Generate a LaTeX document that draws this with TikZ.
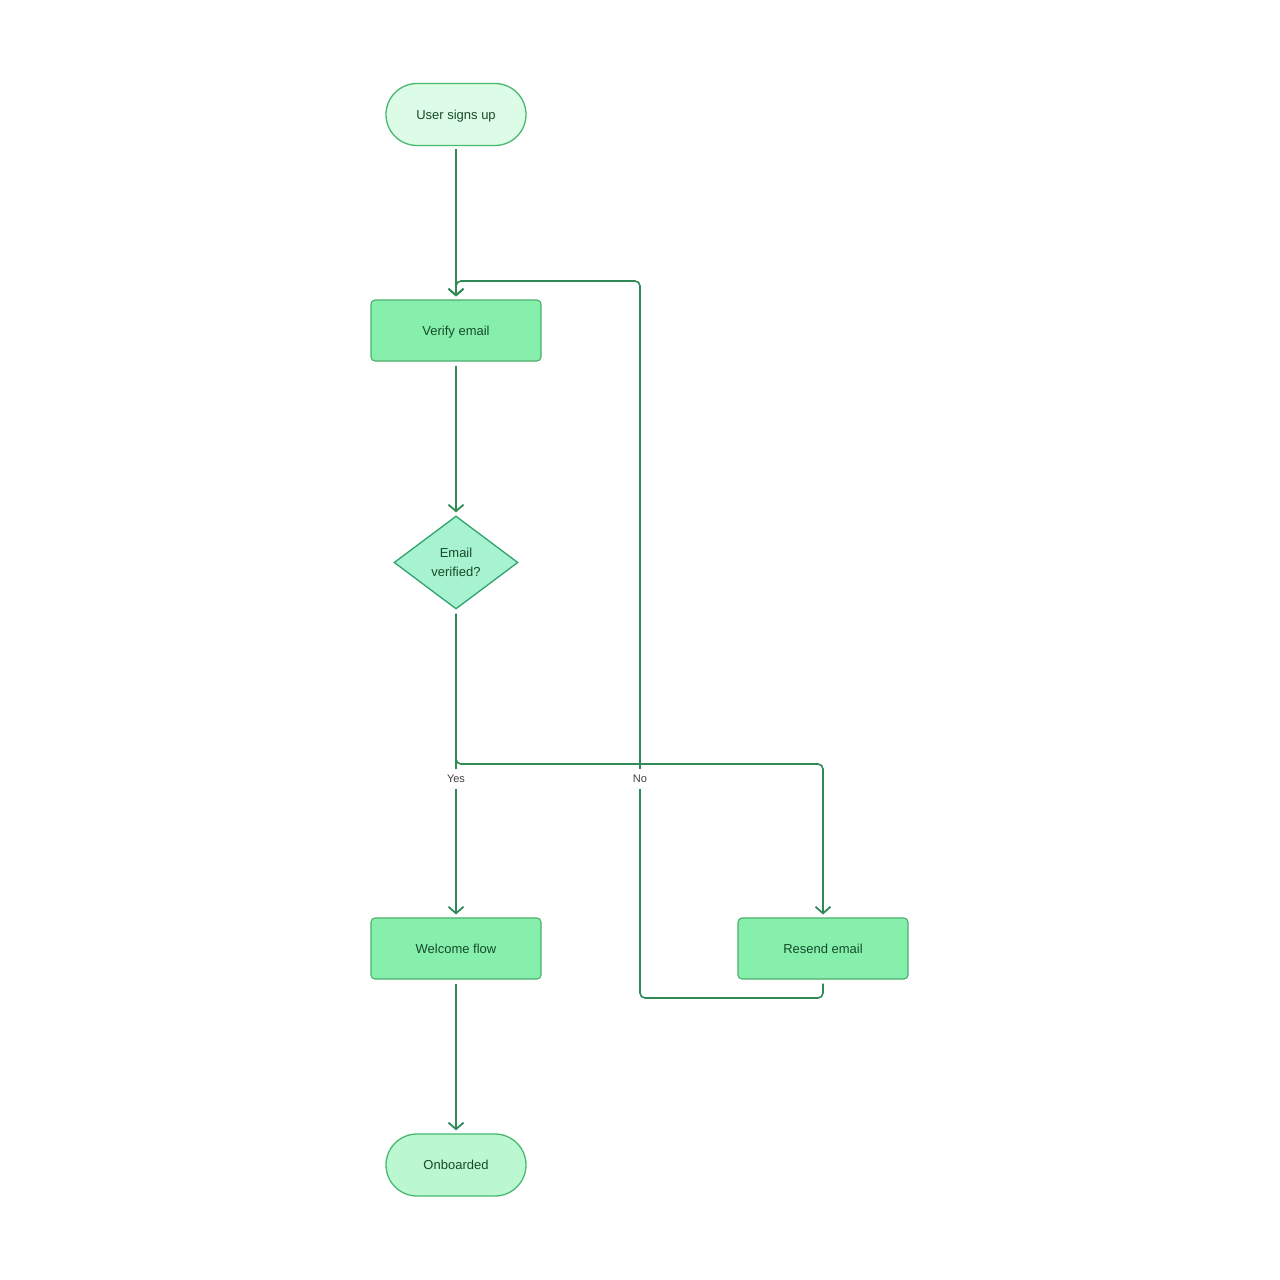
\documentclass[tikz,border=0pt]{standalone}
\usepackage{fontspec}
\setmainfont{Liberation Sans}
\usetikzlibrary{shapes.geometric,arrows.meta}
\definecolor{edge}{HTML}{2F8A57}
\definecolor{txt}{HTML}{174A2B}
\definecolor{startfill}{HTML}{DCFCE7}
\definecolor{endfill}{HTML}{BBF7D0}
\definecolor{boxfill}{HTML}{86EFAC}
\definecolor{boxdraw}{HTML}{4CAF6E}
\definecolor{dfill}{HTML}{A7F3D0}
\definecolor{ddraw}{HTML}{2FA36B}
\definecolor{termdraw}{HTML}{46B96F}
\tikzset{
  terminal/.style={draw=termdraw, line width=1.3pt, rounded corners=31pt, minimum width=140pt, minimum height=62pt, inner sep=0pt, font=\fontsize{13}{15}\selectfont, text=txt, text height=11pt, text depth=2pt},
  procbox/.style={draw=boxdraw, fill=boxfill, line width=1.1pt, rounded corners=4pt, minimum width=170pt, minimum height=61pt, inner sep=0pt, font=\fontsize{13}{15}\selectfont, text=txt, text height=11pt, text depth=2pt},
  decision/.style={diamond, aspect=1.33, draw=ddraw, fill=dfill, line width=1.3pt, minimum width=124pt, minimum height=93pt, inner sep=0pt, font=\fontsize{13}{19}\selectfont, text=txt, align=center},
  conn/.style={draw=edge, line width=1.6pt, rounded corners=5pt, -{Straight Barb[length=6.5pt,width=15pt,line width=1.8pt]}},
  lbl/.style={fill=white, inner sep=2pt, text=black!75, font=\fontsize{11}{13}\selectfont, minimum height=20pt}
}
\begin{document}
\begin{tikzpicture}[x=1pt,y=-1pt]
\useasboundingbox (0,0) rectangle (1280,1280);
\node[terminal, fill=startfill] (start) at (456,114.5) {User signs up};
\node[procbox] (verify) at (456,330.5) {Verify email};
\node[decision] (dec) at (456,562.5) {Email\\verified?};
\node[procbox] (welcome) at (456,948.5) {Welcome flow};
\node[procbox] (resend) at (823,948.5) {Resend email};
\node[terminal, fill=endfill] (onb) at (456,1165) {Onboarded};

\coordinate (loopA) at (823,998);
\coordinate (loopB) at (640,998);
\coordinate (loopC) at (640,281);
\coordinate (loopD) at (456,281);
\coordinate (split) at (456,764);
\coordinate (splitR) at (823,764);

\draw[conn] ([yshift=-3pt]start.south) -- ([yshift=3pt]verify.north);
\draw[conn] ([yshift=-4pt]resend.south) -- (loopA) -- (loopB) -- (loopC) -- (loopD) -- ([yshift=3pt]verify.north);
\draw[conn] ([yshift=-4pt]verify.south) -- ([yshift=3pt]dec.north);
\draw[conn] ([yshift=-4pt]dec.south) -- ([yshift=3pt]welcome.north);
\draw[conn] ([yshift=-4pt]dec.south) -- (split) -- (splitR) -- ([yshift=3pt]resend.north);
\draw[conn] ([yshift=-4pt]welcome.south) -- ([yshift=3pt]onb.north);

\node[lbl] (yes) at (456,779) {Yes};
\node[lbl] (no) at (640,779) {No};
\end{tikzpicture}
\end{document}
